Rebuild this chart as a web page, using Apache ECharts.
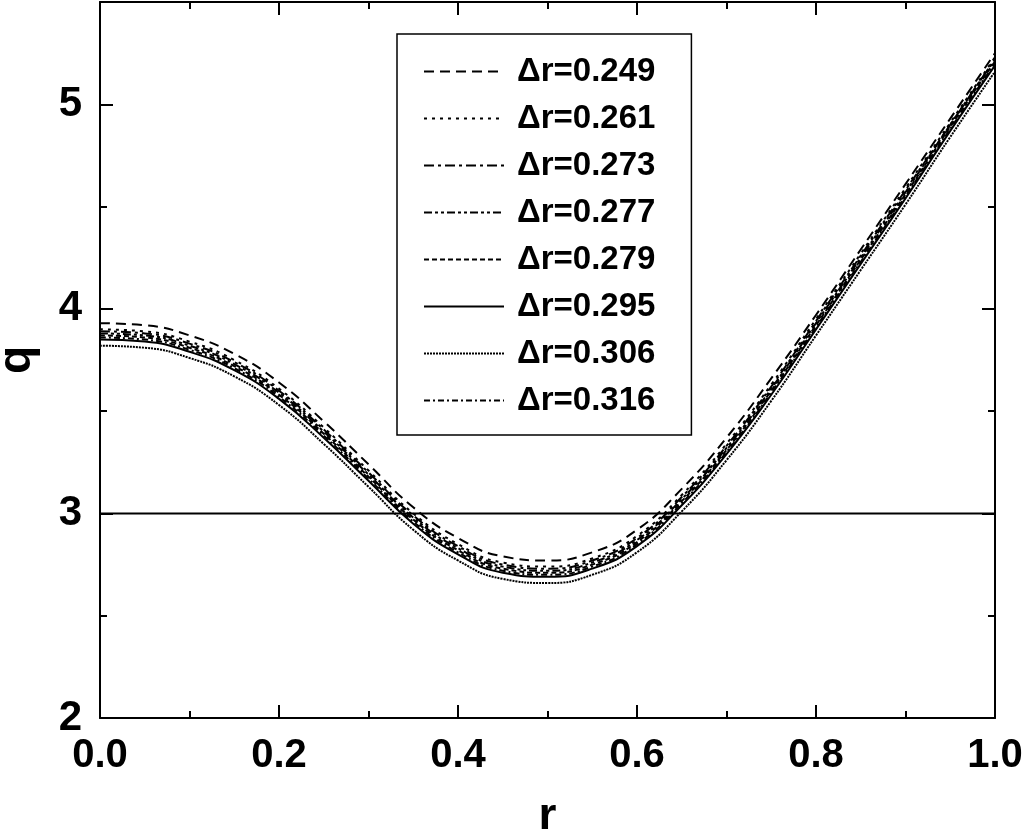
<!DOCTYPE html>
<html>
<head>
<meta charset="utf-8">
<script src="https://cdn.jsdelivr.net/npm/echarts@6/dist/echarts.min.js"></script>
<style>
  html, body { margin: 0; padding: 0; background: #fff; }
  #qProfile { width: 1025px; height: 829px; }
</style>
</head>
<body>
<div id="qProfile"></div>
<script>
// r grid (radial coordinate)
var rValues = [0, 0.05, 0.1, 0.15, 0.2, 0.25, 0.3, 0.35, 0.4, 0.45, 0.5,
  0.55, 0.6, 0.65, 0.7, 0.75, 0.8, 0.85, 0.9, 0.95, 1.0];

// q profiles, one per delta r
var q249 = [3.93, 3.92, 3.87, 3.78, 3.64, 3.45, 3.24, 3.03, 2.88, 2.79, 2.77, 2.81, 2.92, 3.12, 3.37, 3.66, 3.97, 4.29, 4.61, 4.93, 5.25];
var q261 = [3.90, 3.89, 3.84, 3.75, 3.61, 3.42, 3.21, 3.00, 2.85, 2.76, 2.74, 2.78, 2.89, 3.09, 3.34, 3.63, 3.95, 4.27, 4.59, 4.91, 5.23];
var q273 = [3.89, 3.88, 3.83, 3.74, 3.60, 3.41, 3.20, 2.99, 2.84, 2.75, 2.73, 2.77, 2.88, 3.08, 3.33, 3.62, 3.94, 4.26, 4.58, 4.90, 5.22];
var q277 = [3.88, 3.87, 3.82, 3.73, 3.59, 3.40, 3.19, 2.98, 2.83, 2.74, 2.72, 2.76, 2.87, 3.07, 3.32, 3.61, 3.93, 4.25, 4.57, 4.90, 5.22];
var q279 = [3.87, 3.86, 3.81, 3.72, 3.58, 3.39, 3.18, 2.97, 2.82, 2.73, 2.71, 2.75, 2.86, 3.06, 3.31, 3.60, 3.92, 4.24, 4.56, 4.89, 5.21];
var q295 = [3.85, 3.84, 3.79, 3.70, 3.56, 3.37, 3.16, 2.95, 2.80, 2.71, 2.69, 2.73, 2.84, 3.04, 3.29, 3.58, 3.90, 4.22, 4.54, 4.87, 5.19];
var q306 = [3.82, 3.81, 3.76, 3.67, 3.53, 3.34, 3.13, 2.92, 2.77, 2.68, 2.66, 2.70, 2.81, 3.01, 3.26, 3.55, 3.87, 4.19, 4.51, 4.84, 5.16];
var q316 = [3.86, 3.85, 3.80, 3.71, 3.57, 3.38, 3.17, 2.96, 2.81, 2.72, 2.70, 2.74, 2.85, 3.05, 3.30, 3.59, 3.91, 4.23, 4.55, 4.88, 5.20];

var seriesNames = ["Δr=0.249", "Δr=0.261", "Δr=0.273", "Δr=0.277", "Δr=0.279", "Δr=0.295", "Δr=0.306", "Δr=0.316"];
var seriesValues = [q249, q261, q273, q277, q279, q295, q306, q316];
var dashTypes = [[10, 6], [3, 5], [10, 4, 3, 4], [8, 3, 3, 3, 3, 3], [5, 3], "solid", [2, 1], [6, 3, 2, 3]];

// reference line q = 3
var refR = [0, 1];
var refQ = [3, 3];

var myChart = echarts.init(document.getElementById("qProfile"));

var showDataArry = [];
seriesValues.forEach(function (vals, i) {
  showDataArry.push({
    name: seriesNames[i],
    type: "line",
    smooth: true,
    symbol: "none",
    data: rValues.map(function (r, k) { return [r, vals[k]]; }),
    lineStyle: { color: "#000", width: 2, type: dashTypes[i] },
    itemStyle: { color: "#000" }
  });
});
showDataArry.push({
  name: "q=3",
  type: "line",
  symbol: "none",
  silent: true,
  data: refR.map(function (r, k) { return [r, refQ[k]]; }),
  lineStyle: { color: "#000", width: 2 }
});

var labelFont = "'Liberation Sans', Arial, sans-serif";

function yAx(pos, interval, tickLen, showLabel, showLine) {
  return {
    type: "value",
    position: pos,
    min: 2,
    max: 5.5,
    interval: interval,
    axisLine: { show: showLine, lineStyle: { color: "#000", width: 2 } },
    axisTick: { inside: true, length: tickLen, lineStyle: { color: "#000", width: 2 } },
    splitLine: { show: false },
    axisLabel: {
      show: showLabel,
      margin: 18,
      color: "#000",
      fontSize: 42,
      fontWeight: "bold",
      fontFamily: labelFont,
      formatter: function (v) { return Math.abs(v - Math.round(v)) < 1e-6 ? String(Math.round(v)) : ""; }
    }
  };
}

var option = {
  animation: false,
  backgroundColor: "#fff",
  grid: { left: 100, top: 2, right: 30, bottom: 111, containLabel: false, outerBoundsMode: "none" },
  legend: {
    orient: "vertical",
    left: 397,
    top: 34,
    padding: [21, 36, 18, 26],
    itemWidth: 80,
    itemHeight: 14,
    itemGap: 14,
    borderColor: "#000",
    borderWidth: 1.5,
    data: seriesNames,
    itemStyle: { opacity: 0 },
    textStyle: {
      color: "#000",
      fontSize: 33,
      fontWeight: "bold",
      fontFamily: labelFont,
      padding: [0, 0, 0, 8]
    }
  },
  xAxis: [
    {
      type: "value",
      position: "bottom",
      min: 0,
      max: 1,
      interval: 0.2,
      name: "r",
      nameLocation: "middle",
      nameGap: 76,
      nameTextStyle: { color: "#000", fontSize: 46, fontWeight: "bold", fontFamily: labelFont },
      axisLine: { lineStyle: { color: "#000", width: 2 } },
      axisTick: { inside: true, length: 13, lineStyle: { color: "#000", width: 2 } },
      minorTick: { show: true, splitNumber: 2, length: 7, lineStyle: { color: "#000", width: 2 } },
      splitLine: { show: false },
      axisLabel: {
        margin: 18,
        color: "#000",
        fontSize: 40,
        fontWeight: "bold",
        fontFamily: labelFont,
        formatter: function (v) { return v.toFixed(1); }
      }
    },
    {
      type: "value",
      position: "top",
      min: 0,
      max: 1,
      interval: 0.2,
      axisLine: { lineStyle: { color: "#000", width: 2 } },
      axisTick: { inside: true, length: 13, lineStyle: { color: "#000", width: 2 } },
      minorTick: { show: true, splitNumber: 2, length: 7, lineStyle: { color: "#000", width: 2 } },
      splitLine: { show: false },
      axisLabel: { show: false }
    }
  ],
  yAxis: [
    (function () {
      var a = yAx("left", 0.5, 7, true, true);
      a.name = "q";
      a.nameLocation = "middle";
      a.nameGap = 60;
      a.nameTextStyle = { color: "#000", fontSize: 46, fontWeight: "bold", fontFamily: labelFont };
      return a;
    })(),
    yAx("left", 1, 13, false, false),
    yAx("right", 0.5, 7, false, true),
    yAx("right", 1, 13, false, false)
  ],
  series: showDataArry
};

myChart.setOption(option);
</script>
</body>
</html>
